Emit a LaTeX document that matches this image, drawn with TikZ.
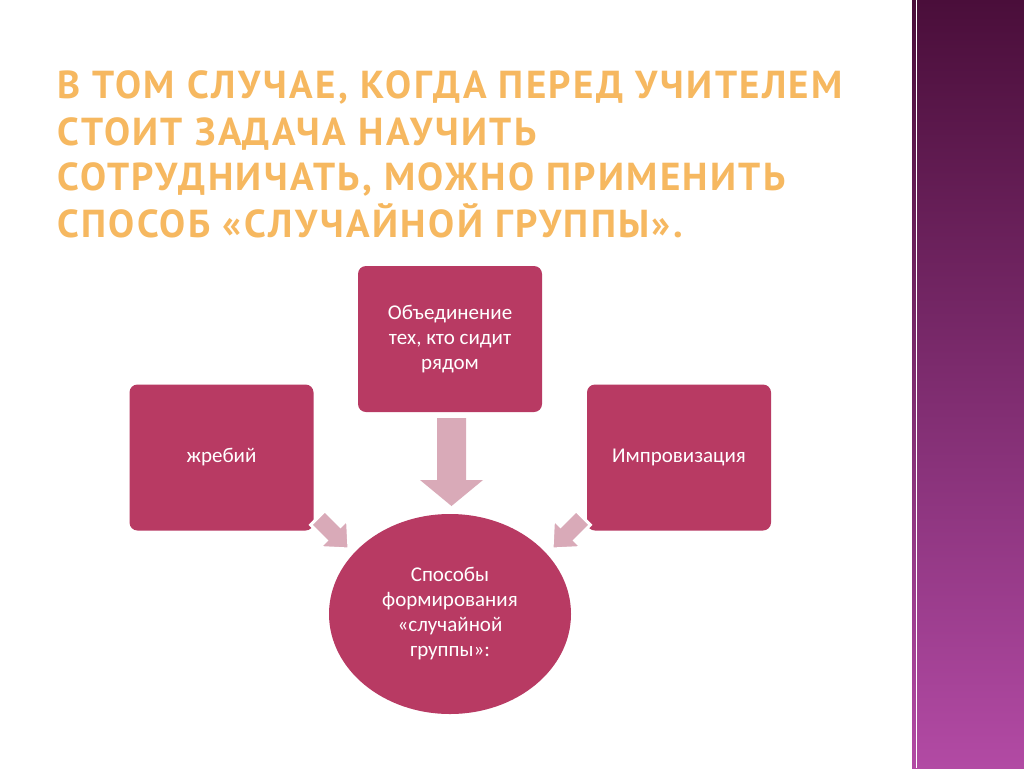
\documentclass[tikz,border=0pt]{standalone}
\usepackage{fontspec}
\setmainfont{Carlito}
\newfontfamily\titlefont[LetterSpace=6]{PT Sans}
\usetikzlibrary{shapes.geometric}
\definecolor{boxc}{HTML}{B83A63}
\definecolor{arrc}{HTML}{D9AAB8}
\definecolor{titc}{HTML}{F6B860}
\definecolor{bandtop}{HTML}{4A0E3A}
\definecolor{bandbot}{HTML}{B24AA4}
\tikzset{
  box/.style={fill=boxc, rounded corners=8pt, text=white, font=\fontsize{21}{25}\selectfont, align=center},
  arr/.style={fill=arrc, draw=white, line width=3pt, line join=miter},
  ttl/.style={anchor=base west, text=titc, font=\titlefont\bfseries\fontsize{39}{40}\selectfont, inner sep=0pt}
}
\begin{document}
\begin{tikzpicture}[x=1pt,y=-1pt]
\useasboundingbox (0,0) rectangle (1024,768);
\fill[white] (0,0) rectangle (1024,768);
\shade[top color=bandtop, bottom color=bandbot] (912,0) rectangle (1024,768);
\draw[white, line width=1pt] (916,0) -- (916,768);
\node[ttl] (t1) at (57,98) {В ТОМ СЛУЧАЕ, КОГДА ПЕРЕД УЧИТЕЛЕМ};
\node[ttl] (t2) at (57,145) {СТОИТ ЗАДАЧА НАУЧИТЬ};
\node[ttl] (t3) at (57,190) {СОТРУДНИЧАТЬ, МОЖНО ПРИМЕНИТЬ};
\node[ttl] (t4) at (57,237) {СПОСОБ «СЛУЧАЙНОЙ ГРУППЫ».};
\node[box, minimum width=184pt, minimum height=146pt] (top) at (450,339) {Объединение\\тех, кто сидит\\рядом};
\node[box, minimum width=184pt, minimum height=146pt] (left) at (221.5,457.5) {жребий};
\node[box, minimum width=184pt, minimum height=146pt] (right) at (679,457.5) {Импровизация};
\fill[arrc] (437,418) -- (466,418) -- (466,480) -- (483,480) -- (451.5,506) -- (420,480) -- (437,480) -- cycle;
\draw[arr] (324.9,510.7) -- (340.5,526.3) -- (347.5,519.3) -- (349,549) -- (319.3,547.5) -- (326.3,540.5) -- (310.7,524.9) -- cycle;
\draw[arr] (576.1,510.7) -- (560.5,526.3) -- (553.5,519.3) -- (552,549) -- (581.7,547.5) -- (574.7,540.5) -- (590.3,524.9) -- cycle;
\node[ellipse, fill=boxc, minimum width=242pt, minimum height=200pt, text=white, align=center, font=\fontsize{21}{25}\selectfont] (c) at (450,614) {Способы\\формирования\\«случайной\\группы»:};
\end{tikzpicture}
\end{document}
